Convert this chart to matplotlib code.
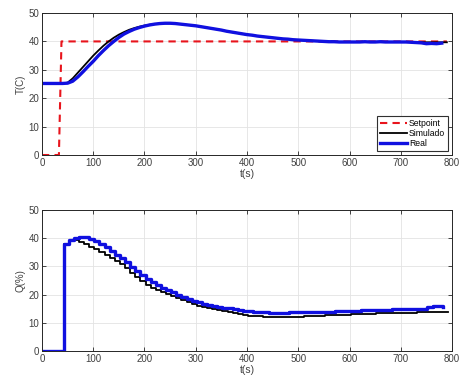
import numpy as np
import matplotlib.pyplot as plt

# temperature (every 10 s)
t_real = np.arange(0, 790, 10)
T_real = [25.2, 25.2, 25.2, 25.2, 25.2, 25.3, 26.0, 27.5, 29.3, 31.2,
          33.0, 35.0, 36.8, 38.5, 40.0, 41.4, 42.6, 43.5, 44.3, 44.9,
          45.4, 45.8, 46.1, 46.3, 46.4, 46.4, 46.3, 46.1, 45.9, 45.7,
          45.5, 45.2, 44.9, 44.6, 44.3, 44.0, 43.6, 43.3, 43.0, 42.7,
          42.4, 42.2, 41.9, 41.7, 41.5, 41.3, 41.1, 40.9, 40.8, 40.6,
          40.5, 40.4, 40.3, 40.2, 40.1, 40.0, 39.9, 39.9, 39.8, 39.8,
          39.8, 39.8, 39.8, 39.9, 39.8, 39.8, 39.9, 39.8, 39.8, 39.8,
          39.8, 39.8, 39.7, 39.6, 39.5, 39.2, 39.3, 39.2, 39.4]

t_sim = np.arange(0, 800, 10)
T_sim = [25.2, 25.2, 25.2, 25.2, 25.2, 25.5, 27.0, 29.0, 31.0, 33.0,
         35.0, 36.8, 38.5, 40.0, 41.3, 42.4, 43.3, 44.1, 44.7, 45.2,
         45.6, 45.9, 46.1, 46.3, 46.4, 46.4, 46.3, 46.1, 45.9, 45.7,
         45.5, 45.2, 44.9, 44.6, 44.3, 44.0, 43.6, 43.3, 43.0, 42.7,
         42.4, 42.2, 41.9, 41.7, 41.5, 41.3, 41.1, 40.9, 40.8, 40.6,
         40.5, 40.4, 40.3, 40.2, 40.1, 40.0, 39.9, 39.9, 39.8, 39.8,
         39.8, 39.8, 39.8, 39.8, 39.8, 39.8, 39.8, 39.8, 39.8, 39.8,
         39.8, 39.8, 39.8, 39.8, 39.7, 39.7, 39.7, 39.7, 39.7, 39.7]

t_sp = [0, 33, 38, 790]
T_sp = [0, 0, 40, 40]

# heater power (sampled every 10 s, drawn as steps)
tq_real = np.arange(2, 790, 10)
Q_real = [0, 0, 0, 0, 38.0, 39.3, 40.2, 40.5, 40.3, 39.7,
          38.9, 37.9, 36.7, 35.5, 34.2, 32.9, 31.4, 29.9, 28.4, 26.9,
          25.5, 24.5, 23.5, 22.5, 21.6, 20.8, 20.0, 19.2, 18.5, 17.9,
          17.3, 16.8, 16.4, 16.0, 15.7, 15.4, 15.1, 14.8, 14.5, 14.3,
          14.1, 13.9, 13.8, 13.7, 13.6, 13.6, 13.6, 13.6, 13.7, 13.7,
          13.7, 13.8, 13.8, 13.9, 13.9, 14.0, 14.0, 14.1, 14.2, 14.2,
          14.3, 14.3, 14.4, 14.4, 14.6, 14.5, 14.6, 14.7, 14.8, 14.8,
          14.8, 14.9, 14.9, 15.0, 15.0, 15.5, 15.8, 15.8, 15.7]

tq_sim = np.arange(2, 800, 10)
Q_sim = [0, 0, 0, 0, 38.0, 39.0, 39.4, 38.7, 37.9, 37.0,
         36.2, 35.1, 34.0, 32.9, 31.8, 30.7, 29.3, 27.8, 26.3, 24.8,
         23.4, 22.5, 21.7, 20.9, 20.2, 19.5, 18.8, 18.1, 17.4, 16.7,
         16.0, 15.6, 15.2, 14.9, 14.6, 14.3, 13.9, 13.5, 13.1, 12.8,
         12.5, 12.4, 12.3, 12.2, 12.2, 12.1, 12.1, 12.1, 12.1, 12.2,
         12.2, 12.3, 12.3, 12.4, 12.5, 12.6, 12.7, 12.8, 12.9, 12.9,
         13.0, 13.0, 13.1, 13.2, 13.2, 13.3, 13.3, 13.4, 13.4, 13.5,
         13.5, 13.6, 13.6, 13.7, 13.7, 13.8, 13.8, 13.8, 13.9, 13.9]

plt.rcParams['font.family'] = 'Liberation Sans'
grey = '#404040'

fig = plt.figure(figsize=(4.74, 3.89), dpi=100)
ax1 = fig.add_axes([0.0886, 0.6015, 0.865, 0.365])
ax2 = fig.add_axes([0.0886, 0.0977, 0.865, 0.3625])

ax1.plot(t_sp, T_sp, '--', color='#e8141c', lw=1.5, dashes=(3.5, 2.5), label='Setpoint')
ax1.plot(t_sim, T_sim, color='black', lw=1.3, label='Simulado')
ax1.plot(t_real, T_real, color='#1010e0', lw=2.4, label='Real')
ax1.set_ylabel('T(C)', fontsize=7, color=grey, labelpad=2)
leg = ax1.legend(loc='lower right', fontsize=6.2, fancybox=False, framealpha=1,
                 edgecolor='#303030', handlelength=3.2, borderpad=0.3,
                 labelspacing=0.15, handletextpad=0.2, borderaxespad=0.5)
leg.get_frame().set_linewidth(0.8)

ax2.plot(tq_sim, Q_sim, color='black', lw=1.3, drawstyle='steps-post')
ax2.plot(tq_real, Q_real, color='#1010e0', lw=2.4, drawstyle='steps-post')
ax2.set_ylabel('Q(%)', fontsize=7, color=grey, labelpad=2)

for ax in (ax1, ax2):
    ax.set_xlim(0, 800)
    ax.set_ylim(0, 50)
    ax.set_xticks(range(0, 801, 100))
    ax.set_yticks(range(0, 51, 10))
    ax.set_xlabel('t(s)', fontsize=7.5, color=grey, labelpad=1)
    ax.grid(True, color='#e3e3e3', lw=0.6)
    ax.set_axisbelow(True)
    ax.tick_params(direction='in', length=3, width=0.6, labelsize=7,
                   colors='#262626', labelcolor=grey, top=True, right=True, pad=2)
    for s in ax.spines.values():
        s.set_color('#262626')
        s.set_linewidth(0.7)

fig.savefig('out.png', dpi=100)
